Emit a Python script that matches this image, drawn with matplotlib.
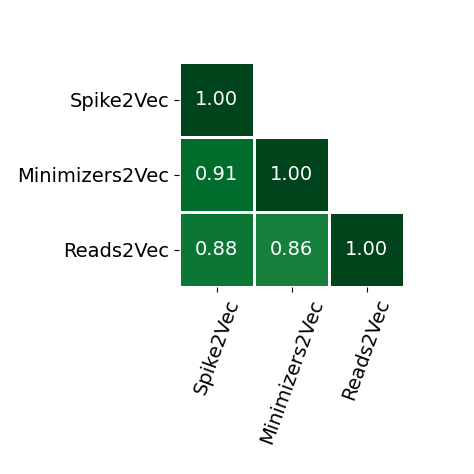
import matplotlib
matplotlib.use("Agg")
import matplotlib.pyplot as plt
import numpy as np

labels = ["Spike2Vec", "Minimizers2Vec", "Reads2Vec"]
values = np.array([[1.00, np.nan, np.nan],
                   [0.91, 1.00, np.nan],
                   [0.88, 0.86, 1.00]])

fig = plt.figure(figsize=(4.74, 4.74), dpi=100)
ax = fig.add_axes([179/474, 1-287/474, 225/474, 225/474])
cmap = plt.get_cmap("Greens")
masked = np.ma.masked_invalid(values)
ax.pcolormesh(np.arange(4), np.arange(4), masked, cmap=cmap, vmin=0.3, vmax=1.0,
              edgecolor="white", linewidth=1)
ax.set_xlim(0, 3); ax.set_ylim(3, 0)
for i in range(3):
    for j in range(3):
        if not np.isnan(values[i, j]):
            ax.text(j+0.5, i+0.5, f"{values[i,j]:.2f}", ha="center", va="center",
                    color="white", fontsize=14)
ax.set_xticks(np.arange(3)+0.5)
ax.set_xticklabels(labels, rotation=70, fontsize=14, ha="center")
ax.set_yticks(np.arange(3)+0.5)
ax.set_yticklabels(labels, fontsize=14)
for s in ax.spines.values():
    s.set_visible(False)
fig.savefig("out.png", dpi=100)
